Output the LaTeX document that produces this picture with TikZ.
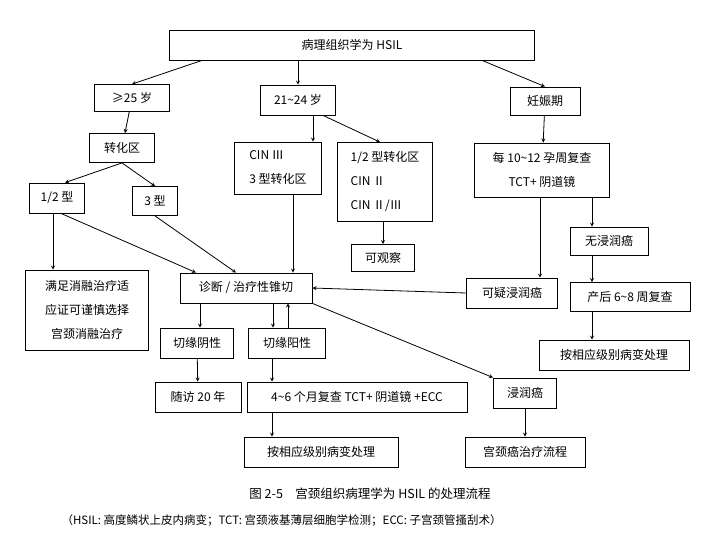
\documentclass[tikz,border=0pt]{standalone}
\usepackage{fontspec}
\setmainfont{Noto Sans CJK SC}
\usetikzlibrary{positioning}
\tikzset{box/.style={draw,thick,inner sep=0pt,align=center,font=\fontsize{12}{24}\selectfont},
arr/.style={-stealth,thick}}
\begin{document}
\begin{tikzpicture}[x=1pt,y=-1pt]
\useasboundingbox[fill=white] (0,0) rectangle (720,542);
\node[box,minimum width=365,minimum height=30] (top) at (352,45) {病理组织学为 HSIL};
\node[box,minimum width=75,minimum height=27] (g25) at (132,98) {≥25 岁};
\node[box,minimum width=75,minimum height=30] (g2124) at (298,100) {21\textasciitilde 24 岁};
\node[box,minimum width=70,minimum height=28] (preg) at (545,101) {妊娠期};
\node[box,minimum width=65,minimum height=29] (zone) at (122,148) {转化区};
\node[box,minimum width=55,minimum height=30] (t12) at (57,198) {1/2 型};
\node[box,minimum width=45,minimum height=29] (t3) at (155,201) {3 型};
\node[box,minimum width=87,minimum height=52,align=left] (cin3) at (278,168) {CIN Ⅲ\\3 型转化区};
\node[box,minimum width=95,minimum height=79,align=left] (cin12) at (385,182) {1/2 型转化区\\CIN Ⅱ\\CIN Ⅱ/Ⅲ};
\node[box,minimum width=63,minimum height=27] (watch) at (383,258) {可观察};
\node[box,minimum width=135,minimum height=54] (every) at (542,170) {每 10\textasciitilde 12 孕周复查\\TCT+ 阴道镜};
\node[box,minimum width=78,minimum height=28] (noinv) at (609,241) {无浸润癌};
\node[box,minimum width=91,minimum height=30] (susp) at (512,293) {可疑浸润癌};
\node[box,minimum width=120,minimum height=29] (post) at (630,297) {产后 6\textasciitilde 8 周复查};
\node[box,minimum width=150,minimum height=30] (grade2) at (614,355) {按相应级别病变处理};
\node[box,minimum width=123,minimum height=80] (ablat) at (87,310) {满足消融治疗适\\应证可谨慎选择\\宫颈消融治疗};
\node[box,minimum width=132,minimum height=30] (cone) at (246,288) {诊断 / 治疗性锥切};
\node[box,minimum width=73,minimum height=30] (neg) at (197,343) {切缘阴性};
\node[box,minimum width=77,minimum height=30] (pos) at (287,343) {切缘阳性};
\node[box,minimum width=86,minimum height=30] (follow) at (198,397) {随访 20 年};
\node[box,minimum width=220,minimum height=30] (recheck) at (357,397) {4\textasciitilde 6 个月复查 TCT+ 阴道镜 +ECC};
\node[box,minimum width=154,minimum height=30] (grade1) at (321,452) {按相应级别病变处理};
\node[box,minimum width=63,minimum height=30] (inv) at (525,393) {浸润癌};
\node[box,minimum width=120,minimum height=30] (cancer) at (525,452) {宫颈癌治疗流程};
\coordinate (rline) at ([xshift=50]every.south);
\coordinate (sline) at ([xshift=-2]every.south);
\coordinate (pline) at ([xshift=-15]pos.south);
\coordinate (aline) at ([xshift=-4]t12.south);
%
\draw[arr] ([xshift=-150]top.south) -- (g25.north);
\draw[arr] (top.south -| g2124.north) -- (g2124.north);
\draw[arr] ([xshift=130]top.south) -- (preg.north);
\draw[arr] (g25) -- (zone);
\draw[arr] (zone.south) -- ([xshift=8]t12.north);
\draw[arr] (zone.south) -- (t3.north);
\draw[arr] ([xshift=4]t12.south) -- ([xshift=-50]cone.north);
\draw[arr] (aline) -- (aline |- ablat.north);
\draw[arr] (t3.south) -- ([xshift=-10]cone.north);
\draw[arr] ([xshift=15]g2124.south) -- ([xshift=15]g2124.south |- cin3.north);
\draw[arr] ([xshift=25]g2124.south) -- ([xshift=-5]cin12.north);
\draw[arr] ([xshift=15]cin3.south) -- ([xshift=47]cone.north);
\draw[arr] (cin12.south -| watch.north) -- (watch.north);
\draw[arr] (preg) -- (every);
\draw[arr] (sline) -- (sline |- susp.north);
\draw[arr] (rline) -- (rline |- noinv.north);
\draw[arr] (rline |- noinv.south) -- (rline |- post.north);
\draw[arr] (rline |- post.south) -- (rline |- grade2.north);
\draw[arr] (susp.west) -- (cone.east);
\draw[arr] ([xshift=-46]cone.south) -- ([xshift=3]neg.north);
\draw[arr] ([xshift=27]cone.south) -- ([xshift=-14]pos.north);
\draw[arr] ([xshift=1]pos.north) -- ([xshift=42]cone.south);
\draw[arr] (cone.south east) -- (inv.north west);
\draw[arr] (neg) -- (follow);
\draw[arr] (pline) -- (pline |- recheck.north);
\draw[arr] (pline |- recheck.south) -- (pline |- grade1.north);
\draw[arr] (inv) -- (cancer);
%
\node[font=\fontsize{12.5}{14}\selectfont] (cap) at (370,494) {图 2-5\quad 宫颈组织病理学为 HSIL 的处理流程};
\node[font=\fontsize{11.5}{14}\selectfont,anchor=west] (note) at (58,520) {（HSIL: 高度鳞状上皮内病变；TCT: 宫颈液基薄层细胞学检测；ECC: 子宫颈管搔刮术）};
\end{tikzpicture}
\end{document}
